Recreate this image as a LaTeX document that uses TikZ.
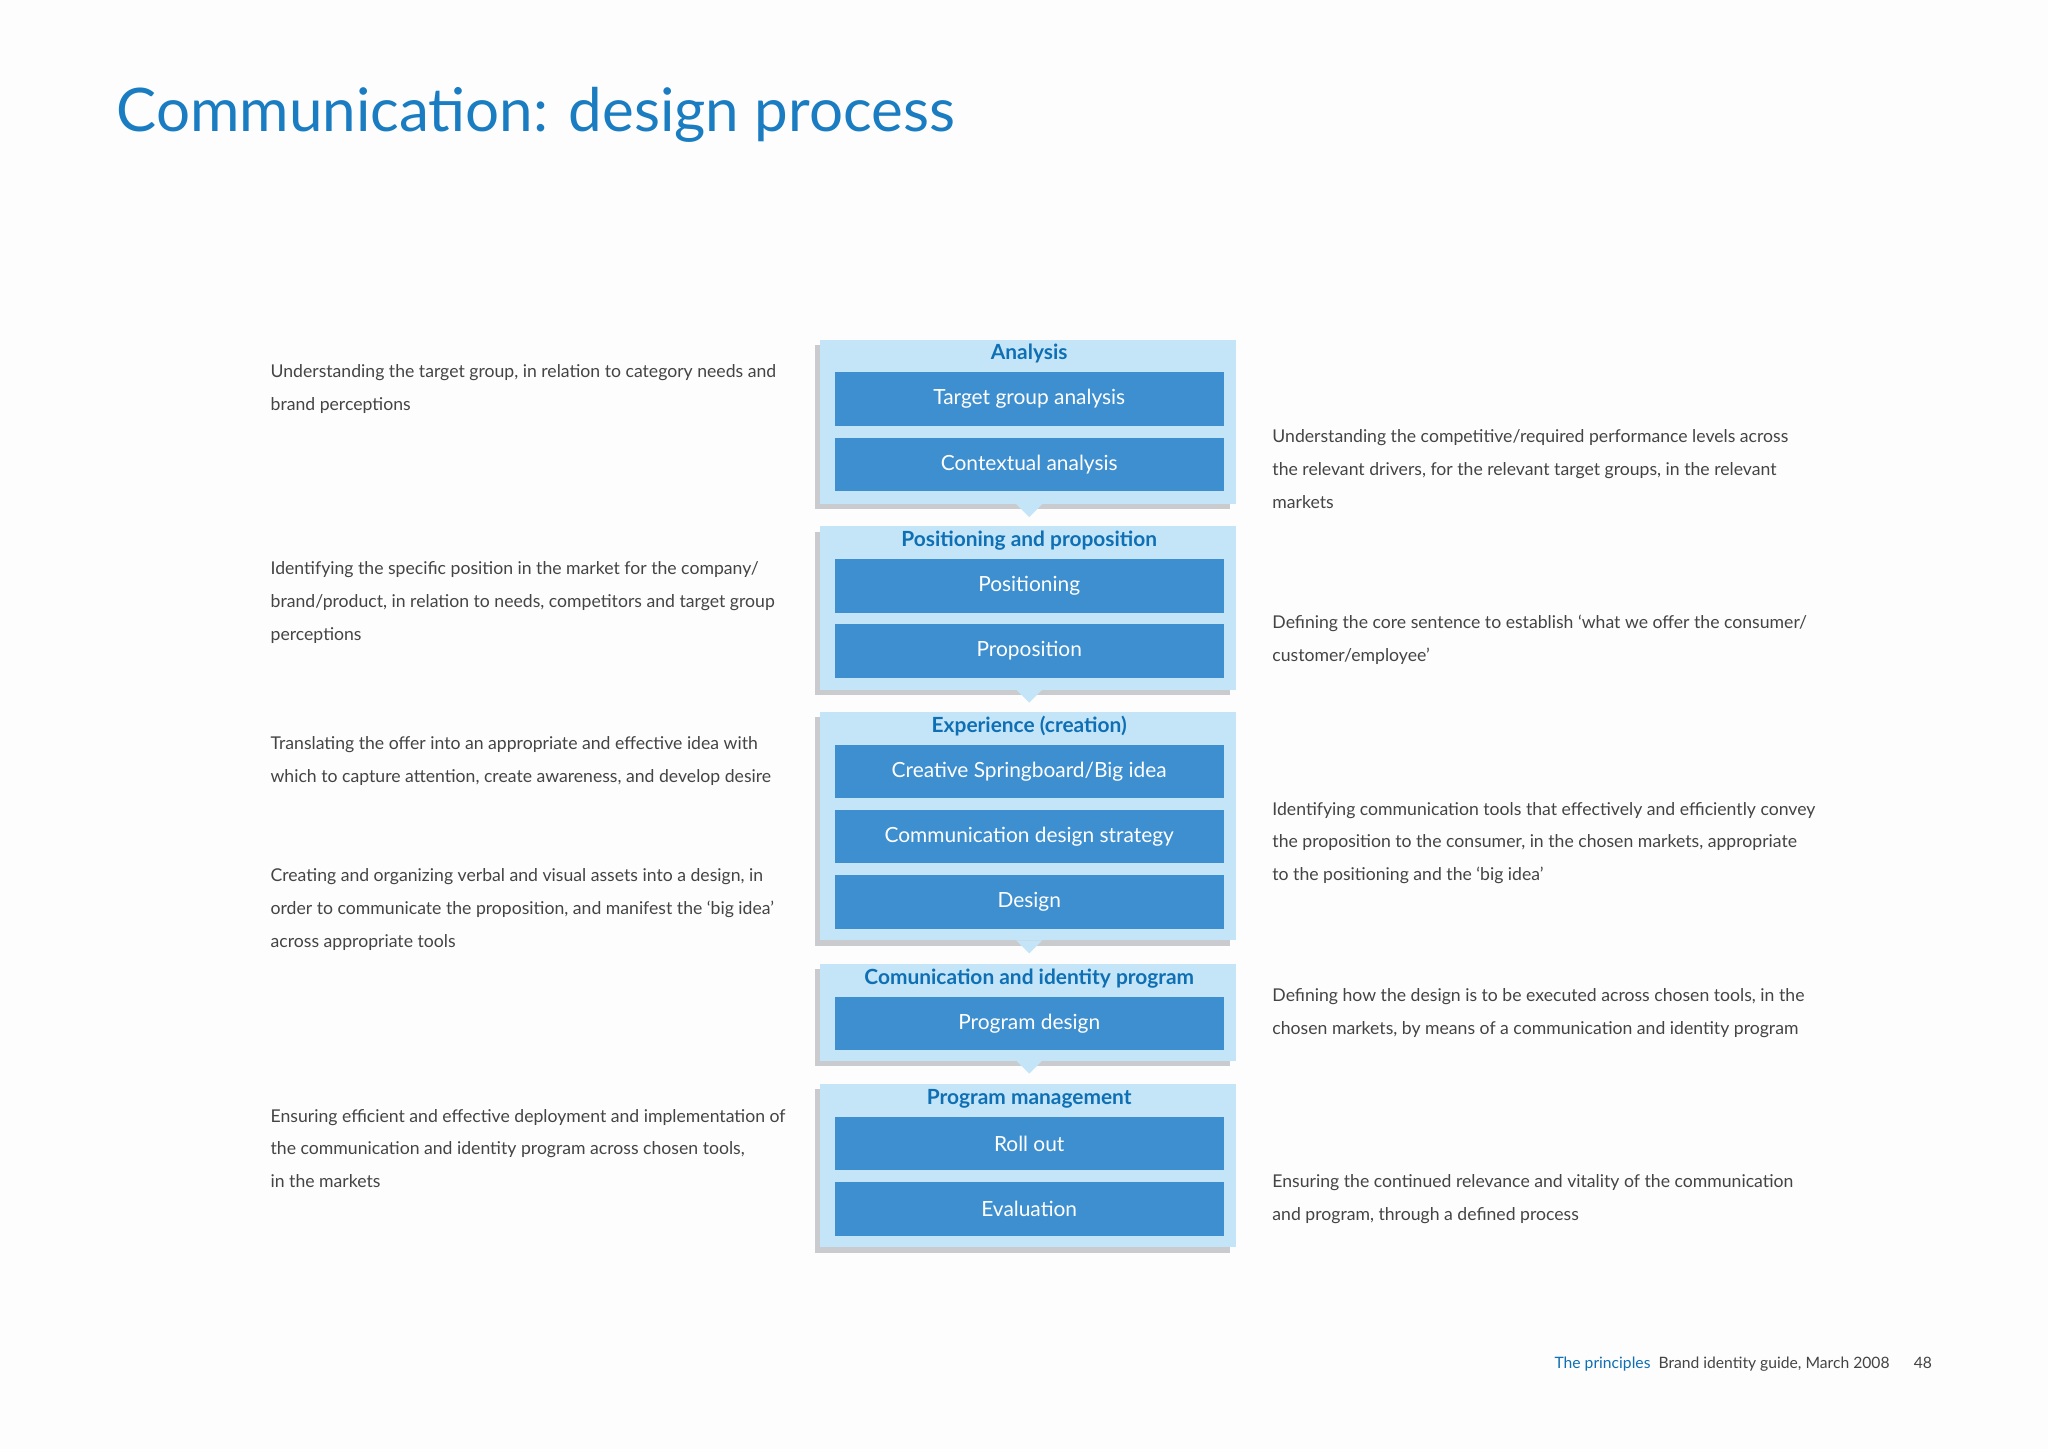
\documentclass[tikz,border=0pt]{standalone}
\usepackage{fontspec}
\setmainfont{Lato}
\definecolor{bgc}{HTML}{FDFDFE}
\definecolor{outerc}{HTML}{C4E5F7}
\definecolor{innerc}{HTML}{3D8FCF}
\definecolor{headc}{HTML}{0E6FB4}
\definecolor{titlec}{HTML}{1A7CC1}
\definecolor{txtc}{HTML}{444444}
\definecolor{shadc}{HTML}{C9CBCE}
\tikzset{
 outerbox/.style={fill=outerc,draw=none},
 shadowbox/.style={fill=shadc,draw=none},
 innerbox/.style={fill=innerc,draw=none},
 boxtext/.style={text=white,font=\fontsize{16}{18}\selectfont,anchor=center},
 headtext/.style={text=headc,font=\bfseries\fontsize{16}{18}\selectfont,anchor=center},
 desc/.style={text=txtc,font=\fontsize{13.5}{25}\selectfont,align=left,anchor=north west,inner sep=0pt},
}
\newcommand{\grp}[4]{% name, top, bottom, header
 \fill[shadc] (624,#2+4) rectangle (942,#3+4);
 \fill[outerc] (628,#2) rectangle (946,#3);
 \node[headtext] (#1h) at (788,#2+11) {#4};
}
\newcommand{\ibox}[3]{% name, top, text
 \fill[innerc] (639,#2) rectangle (937,#2+41);
 \node[boxtext] (#1) at (788,#2+20.5) {#3};
}
\newcommand{\ptr}[2]{% name, y bottom of group
 \fill[outerc] (778,#2) -- (798,#2) -- (788,#2+10) -- cycle;
}
\begin{document}
\begin{tikzpicture}[x=1pt,y=-1pt]
\fill[bgc] (0,0) rectangle (1568,1109);
\useasboundingbox (0,0) rectangle (1568,1109);
\node[anchor=base west,inner sep=0pt,text=titlec,font=\fontsize{46}{50}\selectfont] (title) at (89,101) {Communication: design process};

\grp{g1}{260}{386}{Analysis}
\ibox{b1}{285}{Target group analysis}
\ibox{b2}{335}{Contextual analysis}
\ptr{p1}{386}
\grp{g2}{403}{528}{Positioning and proposition}
\ibox{b3}{428}{Positioning}
\ibox{b4}{478}{Proposition}
\ptr{p2}{528}
\grp{g3}{545}{720}{Experience (creation)}
\ibox{b5}{570}{Creative Springboard/Big idea}
\ibox{b6}{620}{Communication design strategy}
\ibox{b7}{670}{Design}
\ptr{p3}{720}
\grp{g4}{738}{812}{Comunication and identity program}
\ibox{b8}{763}{Program design}
\ptr{p4}{812}
\grp{g5}{830}{955}{Program management}
\ibox{b9}{855}{Roll out}
\ibox{b10}{905}{Evaluation}

\node[desc] (l1) at (207,279) {Understanding the target group, in relation to category needs and\\brand perceptions};
\node[desc] (l2) at (207,430) {Identifying the specific position in the market for the company/\\brand/product, in relation to needs, competitors and target group\\perceptions};
\node[desc] (l3) at (207,564) {Translating the offer into an appropriate and effective idea with\\which to capture attention, create awareness, and develop desire};
\node[desc] (l4) at (207,665) {Creating and organizing verbal and visual assets into a design, in\\order to communicate the proposition, and manifest the ‘big idea’\\across appropriate tools};
\node[desc] (l5) at (207,849) {Ensuring efficient and effective deployment and implementation of\\the communication and identity program across chosen tools,\\in the markets};

\node[desc] (r1) at (974,329) {Understanding the competitive/required performance levels across\\the relevant drivers, for the relevant target groups, in the relevant\\markets};
\node[desc] (r2) at (974,471) {Defining the core sentence to establish ‘what we offer the consumer/\\customer/employee’};
\node[desc] (r3) at (974,614) {Identifying communication tools that effectively and efficiently convey\\the proposition to the consumer, in the chosen markets, appropriate\\to the positioning and the ‘big idea’};
\node[desc] (r4) at (974,757) {Defining how the design is to be executed across chosen tools, in the\\chosen markets, by means of a communication and identity program};
\node[desc] (r5) at (974,899) {Ensuring the continued relevance and vitality of the communication\\and program, through a defined process};

\node[anchor=base west,inner sep=0pt,font=\fontsize{12}{14}\selectfont] (foot) at (1190,1048) {\textcolor{headc}{The principles}\ \ \textcolor{txtc}{Brand identity guide, March 2008}};
\node[anchor=base west,inner sep=0pt,font=\fontsize{12}{14}\selectfont,text=txtc] (pg) at (1465,1048) {48};
\end{tikzpicture}
\end{document}
